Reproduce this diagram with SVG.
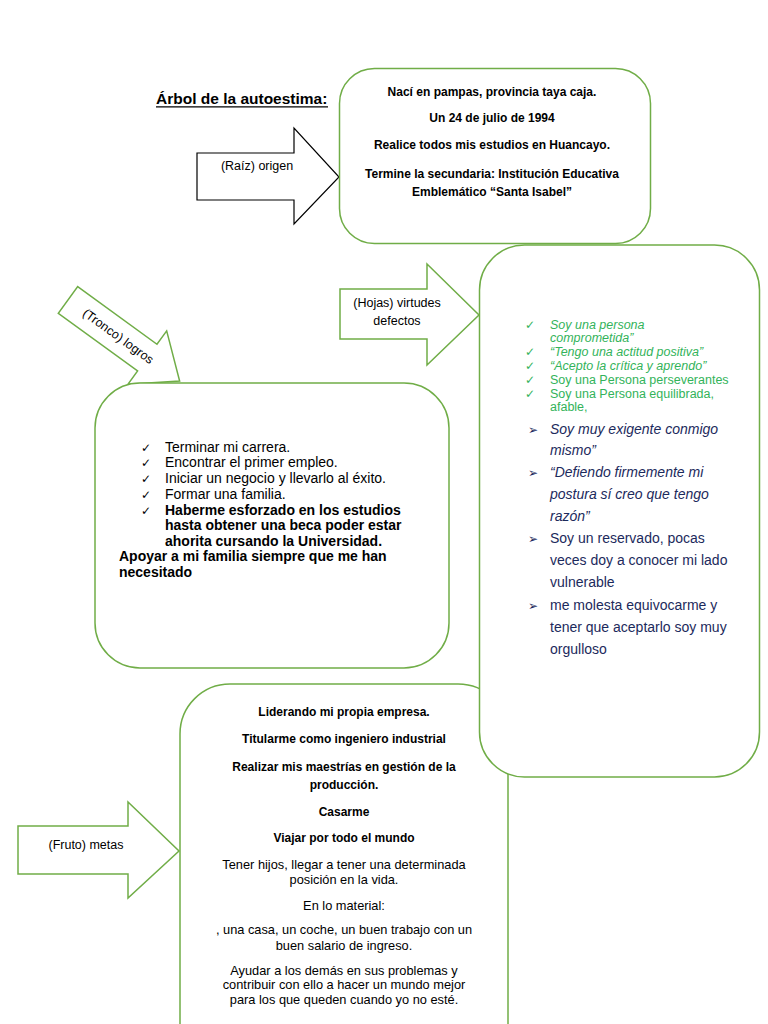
<svg xmlns="http://www.w3.org/2000/svg" width="768" height="1024" viewBox="0 0 768 1024">
<style>
.box{fill:#fff;stroke:#70ad47;stroke-width:1.5}
.garrow{fill:#fff;stroke:#70ad47;stroke-width:1.5}
.barrow{fill:#fff;stroke:#000;stroke-width:1.2}
text{font-family:"Liberation Sans",Arial,sans-serif;fill:#000}
.lbl{font-size:12.5px;text-anchor:middle}
.cb{font-size:12px;font-weight:bold;text-anchor:middle}
.cr{font-size:12.8px;text-anchor:middle}
.t3{font-size:14px}
.t3b{font-size:14px;font-weight:bold}
.chk{font-family:"DejaVu Sans",sans-serif;font-size:12px}
.gc{fill:#33b35a}
.g{font-size:12.5px;fill:#33b35a}
.n{font-size:14px;fill:#1c2a5c}
.it{font-style:italic}
.arr{font-family:"DejaVu Sans",sans-serif;font-size:12px;font-weight:bold;fill:#1c2a5c}
</style>
<rect width="768" height="1024" fill="#fff"/>
<g id="title">
<text x="156" y="104" style="font-size:15.5px;font-weight:bold">Árbol de la autoestima:</text>
<line x1="156" y1="106.8" x2="328" y2="106.8" stroke="#000" stroke-width="1.2"/>
</g>
<g id="connectors">
<g id="arrow-raiz">
<polygon class="barrow" points="197,153 294,153 294,128 339,177 294,224 294,200 197,200"/>
<text class="lbl" x="257" y="170">(Raíz) origen</text>
</g>
<g id="arrow-tronco">
<polygon class="garrow" transform="translate(68,300) rotate(36)" points="0,-16.5 98,-16.5 98,-33 138,0 98,33 98,16.5 0,16.5"/>
<text class="lbl" transform="translate(68,300) rotate(36)" x="62" y="4">(Tronco) logros</text>
</g>
<g id="arrow-hojas">
<polygon class="garrow" points="340,289 427,289 427,264 479,315 427,365 427,339 340,339"/>
<text class="lbl" x="397" y="307">(Hojas) virtudes</text>
<text class="lbl" x="397" y="325">defectos</text>
</g>
<g id="arrow-fruto">
<polygon class="garrow" points="18,826 128,826 128,802 179,851 128,898 128,874 18,874"/>
<text class="lbl" x="86" y="849">(Fruto) metas</text>
</g>
</g>
<g id="box-origen">
<rect class="box" x="339.5" y="68.5" width="311" height="175" rx="35"/>
<text class="cb" x="492" y="96">Nací en pampas, provincia taya caja.</text>
<text class="cb" x="492" y="122">Un 24 de julio de 1994</text>
<text class="cb" x="492" y="149">Realice todos mis estudios en Huancayo.</text>
<text class="cb" x="492" y="178">Termine la secundaria: Institución Educativa</text>
<text class="cb" x="492" y="196">Emblemático “Santa Isabel”</text>
</g>
<g id="box-logros">
<rect class="box" x="95" y="383" width="354" height="285" rx="45"/>
<text class="chk" x="141" y="452">✓</text>
<text class="chk" x="141" y="467">✓</text>
<text class="chk" x="141" y="483">✓</text>
<text class="chk" x="141" y="499">✓</text>
<text class="chk" x="141" y="515">✓</text>
<text class="t3" x="165" y="452">Terminar mi carrera.</text>
<text class="t3" x="165" y="467">Encontrar el primer empleo.</text>
<text class="t3" x="165" y="483">Iniciar un negocio y llevarlo al éxito.</text>
<text class="t3" x="165" y="499">Formar una familia.</text>
<text class="t3b" x="165" y="515">Haberme esforzado en los estudios</text>
<text class="t3b" x="165" y="530">hasta obtener una beca poder estar</text>
<text class="t3b" x="165" y="546">ahorita cursando la Universidad.</text>
<text class="t3b" x="119" y="561">Apoyar a mi familia siempre que me han</text>
<text class="t3b" x="119" y="577">necesitado</text>
</g>
<g id="box-metas">
<rect class="box" x="180" y="684" width="328" height="420" rx="50"/>
<text class="cb" x="344" y="716">Liderando mi propia empresa.</text>
<text class="cb" x="344" y="743">Titularme como ingeniero industrial</text>
<text class="cb" x="344" y="771">Realizar mis maestrías en gestión de la</text>
<text class="cb" x="344" y="789">producción.</text>
<text class="cb" x="344" y="816">Casarme</text>
<text class="cb" x="344" y="842">Viajar por todo el mundo</text>
<text class="cr" x="344" y="869">Tener hijos, llegar a tener una determinada</text>
<text class="cr" x="344" y="884">posición en la vida.</text>
<text class="cr" x="344" y="910">En lo material:</text>
<text class="cr" x="344" y="934">, una casa, un coche, un buen trabajo con un</text>
<text class="cr" x="344" y="950">buen salario de ingreso.</text>
<text class="cr" x="344" y="975">Ayudar a los demás en sus problemas y</text>
<text class="cr" x="344" y="989">contribuir con ello a hacer un mundo mejor</text>
<text class="cr" x="344" y="1004">para los que queden cuando yo no esté.</text>
</g>
<g id="box-virtudes">
<rect class="box" x="479.5" y="245" width="280" height="532" rx="45"/>
<text class="chk gc" x="525" y="329">✓</text>
<text class="chk gc" x="525" y="356">✓</text>
<text class="chk gc" x="525" y="370">✓</text>
<text class="chk gc" x="525" y="384">✓</text>
<text class="chk gc" x="525" y="398">✓</text>
<text class="g it" x="550" y="329">Soy una persona</text>
<text class="g it" x="550" y="342">comprometida”</text>
<text class="g it" x="550" y="356">“Tengo una actitud positiva”</text>
<text class="g it" x="550" y="370">“Acepto la crítica y aprendo”</text>
<text class="g" x="550" y="384">Soy una Persona perseverantes</text>
<text class="g" x="550" y="398">Soy una Persona equilibrada,</text>
<text class="g" x="550" y="411">afable,</text>
<text class="arr" x="528" y="434">➢</text>
<text class="arr" x="528" y="477">➢</text>
<text class="arr" x="528" y="543">➢</text>
<text class="arr" x="528" y="610">➢</text>
<text class="n it" x="550" y="434">Soy muy exigente conmigo</text>
<text class="n it" x="550" y="455">mismo”</text>
<text class="n it" x="550" y="477">“Defiendo firmemente mi</text>
<text class="n it" x="550" y="499">postura sí creo que tengo</text>
<text class="n it" x="550" y="521">razón”</text>
<text class="n" x="550" y="543">Soy un reservado, pocas</text>
<text class="n" x="550" y="565">veces doy a conocer mi lado</text>
<text class="n" x="550" y="587">vulnerable</text>
<text class="n" x="550" y="610">me molesta equivocarme y</text>
<text class="n" x="550" y="632">tener que aceptarlo soy muy</text>
<text class="n" x="550" y="654">orgulloso</text>
</g>
</svg>
